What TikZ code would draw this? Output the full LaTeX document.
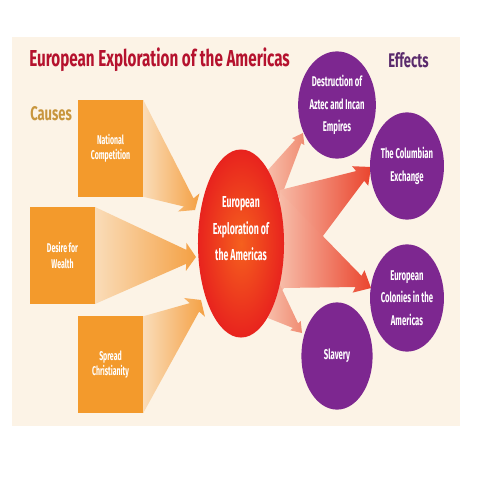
\documentclass[tikz,border=0pt]{standalone}
\usepackage{fontspec}
\setmainfont{Fira Sans}[FakeStretch=0.66]
\newfontfamily\condfont{Fira Sans}[FakeStretch=0.55]
\usetikzlibrary{positioning, calc, shapes.geometric}
\definecolor{bgcream}{HTML}{FCF3E6}
\definecolor{titlered}{HTML}{B5122E}
\definecolor{causegold}{HTML}{C8963E}
\definecolor{effectpurple}{HTML}{5A2A6C}
\definecolor{boxorange}{HTML}{F39A2C}
\definecolor{bubblepurple}{HTML}{7D2790}
\definecolor{corered}{HTML}{E8231E}
\definecolor{coreorange}{HTML}{F5601E}
\definecolor{wedgepale}{HTML}{FADCB8}
\definecolor{wedgeorange}{HTML}{F4A043}
\definecolor{rosepale}{HTML}{F7BCA8}
\definecolor{rosered}{HTML}{EA452E}
\definecolor{rosemid}{HTML}{F08C72}
\newcommand{\fatarrow}[7]{%
  \path ($(#1)!0.5!(#2)$) coordinate (fa-m);
  \path ($(#3)!#5!(fa-m)$) coordinate (fa-b);
  \shade[#4] (#1) -- ($(fa-b)!#7!90:(#3)$) -- ($(fa-b)!#6!90:(#3)$) -- (#3)
    -- ($(fa-b)!#6!-90:(#3)$) -- ($(fa-b)!#7!-90:(#3)$) -- (#2) -- cycle;}
\tikzset{
  heading/.style={font=\bfseries\fontsize{16.4}{19}\selectfont, inner sep=0pt},
  causebox/.style={fill=boxorange, text=white, minimum width=1.63cm, minimum height=2.4cm,
    align=center, font=\condfont\bfseries\fontsize{9}{11}\selectfont},
  bubble/.style={ellipse, fill=bubblepurple, text=white, minimum width=1.78cm, minimum height=2.68cm,
    inner sep=0pt, align=center, font=\condfont\bfseries\fontsize{10}{16}\selectfont},
  core/.style={ellipse, shade, inner color=coreorange, outer color=corered, text=white,
    minimum width=2.15cm, minimum height=4.7cm, inner xsep=-3pt, inner ysep=0pt, align=center,
    text depth=21pt, font=\condfont\bfseries\fontsize{11.3}{19}\selectfont},
  causewedge/.style={left color=wedgepale, right color=wedgeorange},
  effectwedge/.style={left color=rosepale, right color=rosered},
  sidewedge/.style={left color=rosepale, right color=rosemid}
}
\begin{document}
\begin{tikzpicture}[x=0.025cm, y=-0.025cm]
  \useasboundingbox (0,0) rectangle (480,480);
  \fill[bgcream] (12,37) rectangle (460,426);

  \node[heading, text=titlered, anchor=base west] (title) at (29,66) {European Exploration of the Americas};
  \node[heading, text=effectpurple, anchor=base west, font=\bfseries\fontsize{14}{17}\selectfont] (effects) at (388,67) {Effects};
  \node[heading, text=causegold, anchor=base west, font=\bfseries\fontsize{14}{17}\selectfont] (causes) at (30,120) {Causes};

  \node[causebox] (nc) at (110.5,148.5) {National\\Competition};
  \node[causebox] (dfw) at (62.5,255.5) {Desire for\\Wealth};
  \node[causebox] (sc) at (110.5,364.5) {Spread\\Christianity};

  \coordinate (tipnc) at (195,210);
  \coordinate (tipdfw) at (196,257);
  \coordinate (tipsc) at (201,300);
  \coordinate (tipdestr) at (303,133);
  \coordinate (tipcolum) at (371,167);
  \coordinate (tipcolon) at (371,288);
  \coordinate (tipslav) at (302,333);

  \fatarrow{nc.north east}{nc.south east}{tipnc}{causewedge}{7pt}{10pt}{4.5pt}
  \fatarrow{dfw.north east}{dfw.south east}{tipdfw}{causewedge}{7pt}{10pt}{5pt}
  \fatarrow{sc.north east}{sc.south east}{tipsc}{causewedge}{7pt}{10pt}{4.5pt}

  \fatarrow{268,170}{280,200}{tipdestr}{sidewedge}{7pt}{5pt}{2.5pt}
  \fatarrow{280,190}{278,296}{tipcolum}{effectwedge}{10pt}{9pt}{4.5pt}
  \fatarrow{280,192}{280,288}{tipcolon}{effectwedge}{10pt}{9pt}{4.5pt}
  \fatarrow{280,285}{268,318}{tipslav}{sidewedge}{7pt}{5pt}{2.5pt}

  \node[core] (expl) at (241,243.5) {European\\Exploration of\\the Americas};

  \node[bubble] (destr) at (337,105) {Destruction of\\Aztec and Incan\\Empires};
  \node[bubble] (colum) at (407,166) {The Columbian\\Exchange};
  \node[bubble] (colon) at (407,298) {European\\Colonies in the\\Americas};
  \node[bubble] (slav) at (337,356) {Slavery};
\end{tikzpicture}
\end{document}
